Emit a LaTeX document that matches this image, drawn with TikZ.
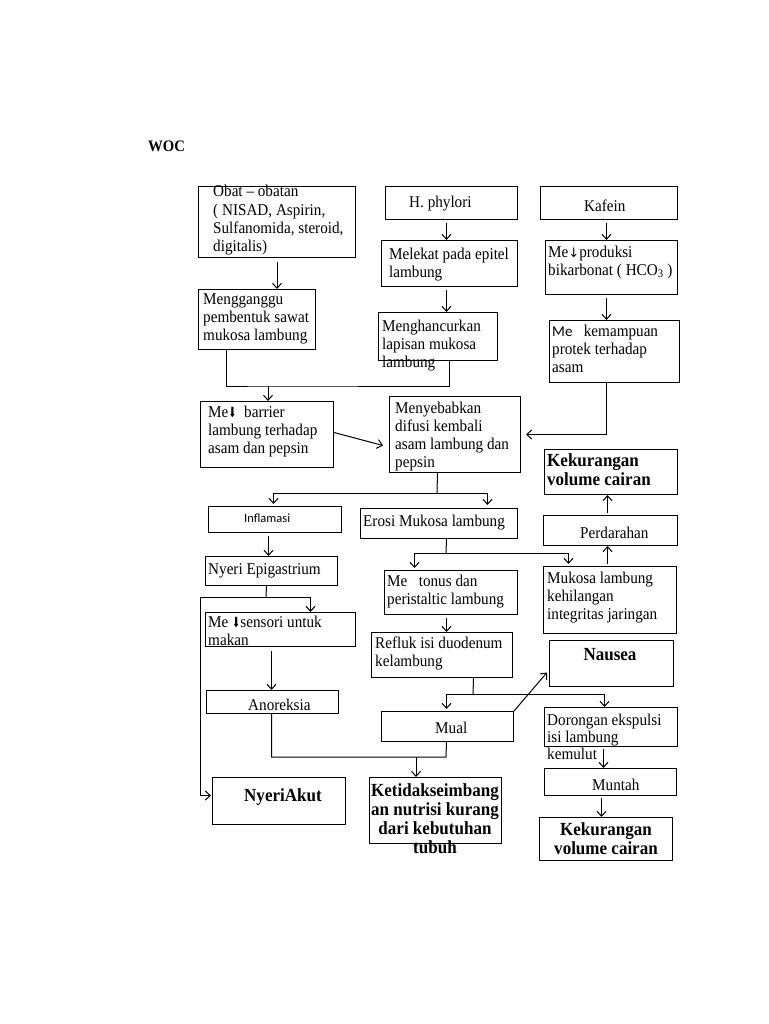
\documentclass[tikz,border=0pt]{standalone}
\usepackage{fontspec}
\setmainfont{Liberation Serif}[FakeStretch=0.92]
\newfontfamily\symfnt{DejaVu Sans}
\newfontfamily\calfnt{Carlito}
\usetikzlibrary{arrows.meta,calc}
\newcommand\bx[5]{\node[box, minimum width={(#4)-(#2)}, minimum height={(#5)-(#3)}] (#1) at (#2,#3) {};}
\newcommand\txl[1]{\begin{tabular}[t]{@{}l@{}}#1\end{tabular}}
\newcommand\txc[1]{\begin{tabular}[t]{@{}c@{}}#1\end{tabular}}
\newcommand\dnb{{\symfnt\fontsize{14}{14}\selectfont\raisebox{0pt}{\scalebox{0.7}[1]{⬇}}}}
\newcommand\dnt{{\symfnt\fontsize{13}{13}\selectfont ↓}}
\begin{document}
\begin{tikzpicture}[x=1pt,y=-1pt,
 box/.style={draw, line width=1pt, inner sep=0pt, anchor=north west},
 txt/.style={inner sep=0pt, anchor=base west, font=\fontsize{16.5}{18.3}\selectfont},
 ctxt/.style={inner sep=0pt, anchor=base, font=\fontsize{16.5}{18.3}\selectfont},
 btxt/.style={inner sep=0pt, anchor=base, font=\fontsize{18.5}{19}\selectfont\bfseries},
 bltxt/.style={inner sep=0pt, anchor=base west, font=\fontsize{18.5}{19}\selectfont\bfseries},
 arr/.style={-{Straight Barb[length=5pt,width=9pt]}, line width=1pt},
 ln/.style={line width=1pt}]
\fill[white] (0,0) rectangle (768,1024);
\useasboundingbox (0,0) rectangle (768,1024);

\node[inner sep=0pt, anchor=base west, font=\fontsize{16}{16}\selectfont\bfseries] (woc) at (148,152) {WOC};

% boxes
\bx{obat}{198}{186}{355}{257}
\bx{hp}{385}{186}{517}{219}
\bx{kaf}{540}{186}{677}{219}
\bx{mel}{381}{240}{517}{286}
\bx{prod}{545}{240}{677}{294}
\bx{mg}{198}{289}{315}{349}
\bx{hanc}{378}{312}{497}{360}
\bx{kem}{549}{320}{679}{382}
\bx{bar}{200}{401}{333}{467}
\bx{meny}{389}{396}{520}{472}
\bx{kek1}{544}{449}{677}{494}
\bx{infl}{208}{506}{341}{532}
\bx{eros}{360}{508}{517}{538}
\bx{perd}{543}{515}{677}{545}
\bx{nyeri}{205}{556}{337}{585}
\bx{tonus}{384}{570}{517}{614}
\bx{muk}{543}{566}{676}{633}
\bx{sens}{205}{612}{355}{646}
\bx{ref}{371}{632}{512}{677}
\bx{naus}{549}{640}{673}{686}
\bx{anor}{206}{690}{338}{713}
\bx{mual}{381}{711}{513}{741}
\bx{dor}{544}{707}{677}{746}
\bx{munt}{544}{768}{676}{795}
\bx{akut}{212}{777}{345}{824}
\bx{ket}{369}{777}{501}{843}
\bx{kek2}{539}{817}{672}{860}

% texts
\node[txt] (tobat) at (213,197) {\txl{Obat -- obatan\\( NISAD, Aspirin,\\Sulfanomida, steroid,\\digitalis)}};
\node[txt] (thp) at (409,208) {H. phylori};
\node[txt] (tkaf) at (584,212) {Kafein};
\node[txt] (tmel) at (389,259) {\txl{Melekat pada epitel\\lambung}};
\node[txt] (tprod) at (548,257) {\txl{Me\dnt produksi\\bikarbonat ( HCO\textsubscript{3} )}};
\node[txt] (tmg) at (203,304) {\txl{Mengganggu\\pembentuk sawat\\mukosa lambung}};
\node[txt] (thanc) at (382,331) {\txl{Menghancurkan\\lapisan mukosa\\lambung}};
\node[txt] (tkem) at (552,336) {\txl{{\calfnt\fontsize{15}{15}\selectfont Me}\ \ \ kemampuan\\protek terhadap\\asam}};
\node[txt] (tbar) at (208,417) {\txl{Me\dnb\ \ barrier\\lambung terhadap\\asam dan pepsin}};
\node[txt] (tmeny) at (395,413) {\txl{Menyebabkan\\difusi kembali\\asam lambung dan\\pepsin}};
\node[bltxt] (tkek1) at (547,466) {\txl{Kekurangan\\volume cairan}};
\node[inner sep=0pt, anchor=base west, font=\calfnt\fontsize{12.5}{14}\selectfont] (tinfl) at (244,522) {Inflamasi};
\node[txt] (teros) at (363,526) {Erosi Mukosa lambung};
\node[txt] (tperd) at (580,538) {Perdarahan};
\node[txt] (tnyeri) at (208,574) {Nyeri Epigastrium};
\node[txt] (ttonus) at (387,586) {\txl{Me\ \ \ tonus dan\\peristaltic lambung}};
\node[txt] (tmuk) at (547,583) {\txl{Mukosa lambung\\kehilangan\\integritas jaringan}};
\node[txt] (tsens) at (208,627) {\txl{Me \dnb sensori untuk\\makan}};
\node[txt] (tref) at (375,648) {\txl{Refluk isi duodenum\\kelambung}};
\node[btxt] (tnaus) at (610,660) {Nausea};
\node[txt] (tanor) at (248,710) {Anoreksia};
\node[txt] (tmual) at (435,733) {Mual};
\node[txt, font=\fontsize{16.5}{17}\selectfont] (tdor) at (547,725) {\txl{Dorongan ekspulsi\\isi lambung\\kemulut}};
\node[txt] (tmunt) at (592,790) {Muntah};
\node[bltxt] (takut) at (244,801) {NyeriAkut};
\node[btxt] (tket) at (435,796) {\txc{Ketidakseimbang\\an nutrisi kurang\\dari kebutuhan\\tubuh}};
\node[btxt] (tkek2) at (606,835) {\txc{Kekurangan\\volume cairan}};

% junction coordinates
\coordinate (j1) at (268,386);
\coordinate (j2) at (437,493);
\coordinate (j3) at (446,553);
\coordinate (j4) at (266,597);
\coordinate (j5) at (200,597);
\coordinate (j6) at (473,694);
\coordinate (j7) at (446,757);
\coordinate (j8) at (416,757);

% connectors
\draw[arr] ([yshift=-4pt]obat.south) -- (obat.south |- mg.north);
\draw[arr] ([xshift=-5pt,yshift=-3pt]hp.south) -- ([xshift=-5pt]hp.south |- mel.north);
\draw[arr] ([xshift=-2.5pt,yshift=-3pt]kaf.south) -- ([xshift=-2.5pt]kaf.south |- prod.north);
\draw[arr] ([xshift=-3pt,yshift=-3pt]mel.south) -- ([xshift=-3pt]mel.south |- hanc.north);
\draw[arr] ([xshift=-5pt,yshift=-3pt]prod.south) -- ([xshift=-5pt]prod.south |- kem.north);
\draw[ln] ([xshift=-30.5pt]mg.south) |- (j1) -| ([xshift=11.5pt]hanc.south);
\draw[arr] (j1) -- (j1 |- bar.north);
\draw[arr] ([yshift=2pt]bar.east) -- ([xshift=-6pt,yshift=-11pt]meny.west);
\draw[arr] ([xshift=-8pt]kem.south) |- ([xshift=5pt]meny.east);
\draw[ln] ([xshift=-17.5pt]meny.south) -- (j2);
\draw[arr] (j2) -| ([xshift=-1.5pt,yshift=2pt]infl.north);
\draw[arr] (j2) -| ([xshift=48.5pt,yshift=3pt]eros.north);
\draw[arr] ([xshift=-6.5pt,yshift=-3pt]infl.south) -- ([xshift=-6.5pt]infl.south |- nyeri.north);
\draw[arr] ([xshift=-3pt,yshift=2pt]perd.north) -- ([xshift=-3pt]perd.north |- kek1.south);
\draw[arr] ([xshift=-2.5pt,yshift=2pt]muk.north) -- ([xshift=-2.5pt]muk.north |- perd.south);
\draw[ln] ([xshift=7.5pt]eros.south) -- (j3);
\draw[arr] (j3) -| ([xshift=-36.5pt,yshift=2pt]tonus.north);
\draw[arr] (j3) -| ([xshift=-41.5pt,yshift=2pt]muk.north);
\draw[ln] ([xshift=-5pt]nyeri.south) -- (j4);
\draw[arr] (j4) -| ([xshift=30pt]sens.north);
\draw[arr] (j4) -- (j5) |- ([yshift=5.5pt,xshift=-1pt]akut.west);
\draw[arr] ([xshift=-4.5pt,yshift=-3pt]tonus.south) -- ([xshift=-4.5pt]tonus.south |- ref.north);
\draw[arr] ([xshift=-9pt,yshift=-4pt]sens.south) -- ([xshift=-9pt]sens.south |- anor.north);
\draw[ln] ([xshift=31.5pt]ref.south) -- (j6);
\draw[arr] (j6) -| ([xshift=-1pt,yshift=2pt]mual.north);
\draw[arr] (j6) -| ([xshift=-6.5pt]dor.north);
\draw[arr] (mual.north east) -- ([xshift=-2pt,yshift=-9pt]naus.west);
\draw[arr] ([xshift=-7.5pt,yshift=-2pt]dor.south) -- ([xshift=-7.5pt]dor.south |- munt.north);
\draw[ln] ([xshift=-1pt]anor.south) |- (j7) -- ([xshift=-1pt]mual.south);
\draw[arr] (j8) -- (j8 |- ket.north);
\draw[arr] ([xshift=-9pt,yshift=-2pt]munt.south) -- ([xshift=-9pt]munt.south |- kek2.north);
\end{tikzpicture}
\end{document}
